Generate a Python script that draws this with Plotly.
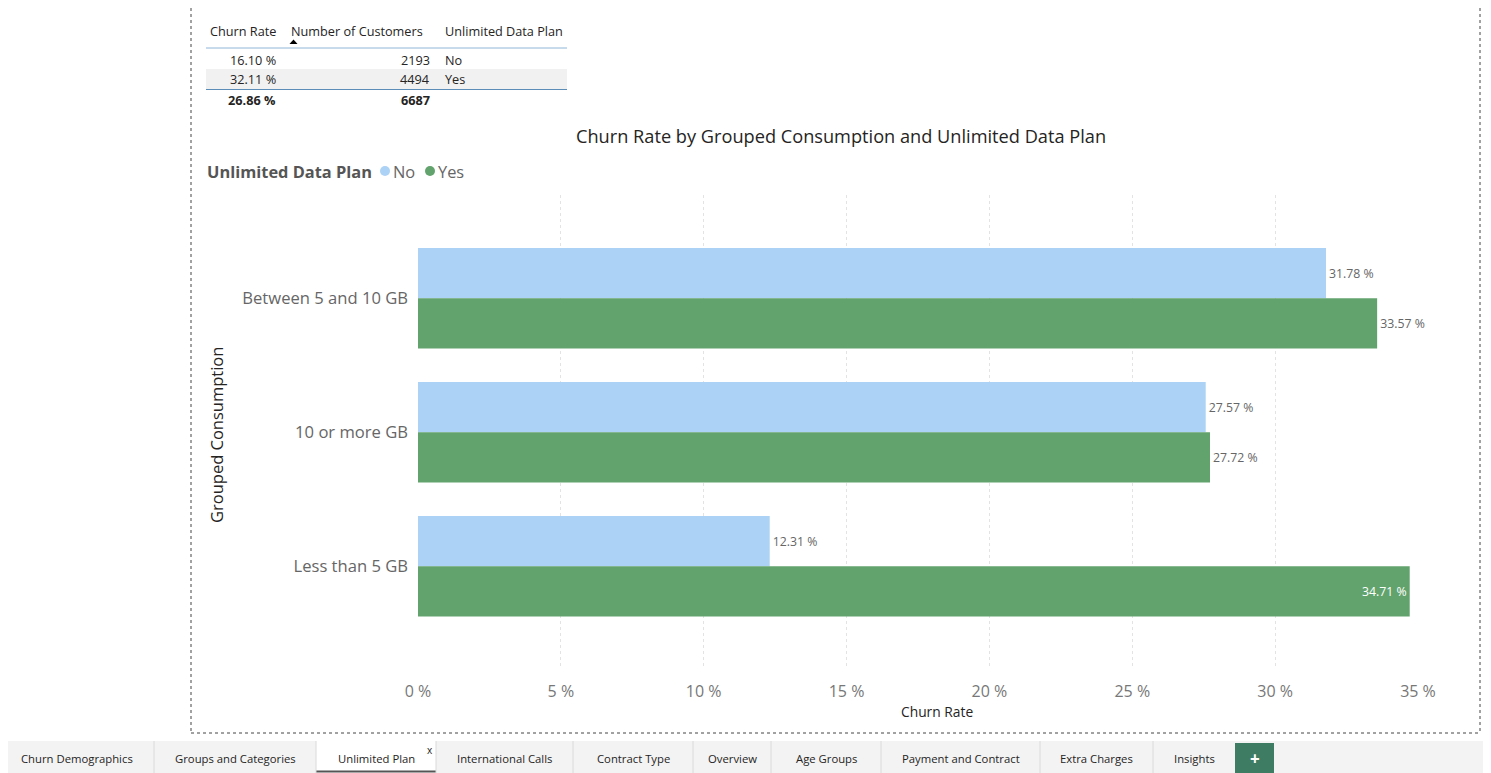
import plotly.graph_objects as go

# ---------------- data ----------------
categories = ["Between 5 and 10 GB", "10 or more GB", "Less than 5 GB"]
series_names = ["No", "Yes"]
no_values = [31.78, 27.57, 12.31]
yes_values = [33.57, 27.72, 34.71]
x_ticks = [0, 5, 10, 15, 20, 25, 30, 35]

table_headers = ["Churn Rate", "Number of Customers", "Unlimited Data Plan"]
table_churn = ["16.10 %", "32.11 %"]
table_customers = [2193, 4494]
table_plan = ["No", "Yes"]
total_churn = "26.86 %"
total_customers = 6687

tabs = ["Churn Demographics", "Groups and Categories", "Unlimited Plan", "International Calls",
        "Contract Type", "Overview", "Age Groups", "Payment and Contract", "Extra Charges", "Insights"]
active_tab = "Unlimited Plan"

# ---------------- styling ----------------
OFF = 8  # page body margin
W, H = 1491 - OFF, 773 - OFF
ML, MR, MT, MB = 418 - OFF, 73, 195 - OFF, 105
PW, PH = W - ML - MR, H - MT - MB
FONT = "Open Sans, Segoe UI, sans-serif"
C_NO = "#ACD2F6"
C_YES = "#62A36D"
C_TEXT = "#252423"


def px(x):
    # x given in reference-screen pixels
    return (x - OFF - ML) / PW


def py(y):
    return 1 - (y - OFF - MT) / PH


fig = go.Figure()

label_positions_yes = ["inside" if v > 34 else "outside" for v in yes_values]

fig.add_trace(go.Bar(
    y=categories, x=no_values, name=series_names[0], orientation="h",
    marker=dict(color=C_NO, line=dict(width=0)),
    texttemplate="%{x:.2f} %", textposition="outside",
    textfont=dict(family=FONT, size=12.3, color="#666666"),
    cliponaxis=False, showlegend=False,
))
fig.add_trace(go.Bar(
    y=categories, x=yes_values, name=series_names[1], orientation="h",
    marker=dict(color=C_YES, line=dict(width=0)),
    texttemplate="%{x:.2f} %", textposition=label_positions_yes,
    insidetextanchor="end",
    insidetextfont=dict(family=FONT, size=12.3, color="#ffffff"),
    outsidetextfont=dict(family=FONT, size=12.3, color="#666666"),
    cliponaxis=False, showlegend=False,
))

shapes = []
annotations = []

# ---- outer dotted visual border ----
for (x0, y0, x1, y1) in [(191, 8, 191, 733), (191, 733, 1480, 733), (1480, 8, 1480, 733)]:
    shapes.append(dict(type="line", xref="paper", yref="paper", x0=px(x0), y0=py(y0), x1=px(x1), y1=py(y1),
                       line=dict(color="#444444", width=1, dash="dot"), layer="below"))

# ---- table ----
hdr_y = 31
annotations.append(dict(text=table_headers[0], x=px(278), y=py(hdr_y), xanchor="right"))
annotations.append(dict(text=table_headers[1], x=px(289), y=py(hdr_y), xanchor="left"))
annotations.append(dict(text=table_headers[2], x=px(443), y=py(hdr_y), xanchor="left"))
# sort indicator triangle
shapes.append(dict(type="path", xref="paper", yref="paper",
                   path="M %f,%f L %f,%f L %f,%f Z" % (px(289.5), py(44), px(297.5), py(44), px(293.5), py(39.5)),
                   fillcolor="#000000", line=dict(width=0)))
shapes.append(dict(type="line", xref="paper", yref="paper", x0=px(206), x1=px(567), y0=py(48), y1=py(48),
                   line=dict(color="#8FB6DA", width=1)))
row_ys = [60, 79]
for i, (c, n, p) in enumerate(zip(table_churn, table_customers, table_plan)):
    if i % 2 == 1:
        shapes.append(dict(type="rect", xref="paper", yref="paper", x0=px(206), x1=px(567),
                           y0=py(row_ys[i] - 10), y1=py(row_ys[i] + 10),
                           fillcolor="#F1F1F1", line=dict(width=0), layer="below"))
    annotations.append(dict(text=c, x=px(278), y=py(row_ys[i]), xanchor="right"))
    annotations.append(dict(text=str(n), x=px(432), y=py(row_ys[i]), xanchor="right"))
    annotations.append(dict(text=p, x=px(443), y=py(row_ys[i]), xanchor="left"))
shapes.append(dict(type="line", xref="paper", yref="paper", x0=px(206), x1=px(567), y0=py(89.5), y1=py(89.5),
                   line=dict(color="#5B8DB8", width=1)))
annotations.append(dict(text="<b>%s</b>" % total_churn, x=px(278), y=py(100), xanchor="right"))
annotations.append(dict(text="<b>%d</b>" % total_customers, x=px(432), y=py(100), xanchor="right"))

for a in annotations:
    a.setdefault("font", dict(family=FONT, size=12.7, color=C_TEXT))
    a["font"].setdefault("family", FONT)
    a.update(xref="paper", yref="paper", yanchor="middle", showarrow=False)

# ---- title ----
annotations.append(dict(text="Churn Rate by Grouped Consumption and Unlimited Data Plan",
                        x=px(841), y=py(136), xref="paper", yref="paper", xanchor="center", yanchor="middle",
                        showarrow=False, font=dict(family=FONT, size=18.2, color=C_TEXT)))

# ---- legend ----
annotations.append(dict(text="<b>Unlimited Data Plan</b>", x=px(205), y=py(171), xref="paper", yref="paper",
                        xanchor="left", yanchor="middle", showarrow=False,
                        font=dict(family=FONT, size=16.4, color="#555555")))
leg_dot_x = [385, 430]
leg_colors = [C_NO, C_YES]
for name, dx, col in zip(series_names, leg_dot_x, leg_colors):
    shapes.append(dict(type="circle", xref="paper", yref="paper", x0=px(dx - 5), x1=px(dx + 5),
                       y0=py(171 - 5), y1=py(171 + 5), fillcolor=col, line=dict(width=0)))
    annotations.append(dict(text=name, x=px(dx + 6), y=py(171), xref="paper", yref="paper",
                            xanchor="left", yanchor="middle", showarrow=False,
                            font=dict(family=FONT, size=16.4, color="#666666")))

# ---- axis titles ----
annotations.append(dict(text="Grouped Consumption", x=px(216), y=py(435), xref="paper", yref="paper",
                        xanchor="center", yanchor="middle", textangle=-90, showarrow=False,
                        font=dict(family=FONT, size=16.5, color=C_TEXT)))
annotations.append(dict(text="Churn Rate", x=px(937), y=py(711), xref="paper", yref="paper",
                        xanchor="center", yanchor="middle", showarrow=False,
                        font=dict(family=FONT, size=13.8, color=C_TEXT)))

# ---- bottom tabs ----
shapes.append(dict(type="rect", xref="paper", yref="paper", x0=px(0), x1=px(1491), y0=py(741), y1=py(773),
                   fillcolor="#F3F3F3", line=dict(width=0), layer="below"))
tab_edges = [0, 154, 316, 436, 573, 693, 771, 881, 1040, 1153, 1235]
for i, name in enumerate(tabs):
    x0, x1 = tab_edges[i], tab_edges[i + 1]
    if name == active_tab:
        shapes.append(dict(type="rect", xref="paper", yref="paper", x0=px(x0), x1=px(x1), y0=py(741),
                           y1=py(773), fillcolor="#FFFFFF", line=dict(width=0), layer="below"))
        shapes.append(dict(type="line", xref="paper", yref="paper", x0=px(x0), x1=px(x1), y0=py(771.5),
                           y1=py(771.5), line=dict(color="#555555", width=2)))
        annotations.append(dict(text="x", x=px(x1 - 6), y=py(750), xref="paper", yref="paper",
                                xanchor="center", yanchor="middle", showarrow=False,
                                font=dict(family=FONT, size=10, color=C_TEXT)))
    if i > 0:
        shapes.append(dict(type="line", xref="paper", yref="paper", x0=px(x0), x1=px(x0), y0=py(741),
                           y1=py(773), line=dict(color="#DADADA", width=1)))
    annotations.append(dict(text=name, x=px((x0 + x1) / 2), y=py(758), xref="paper", yref="paper",
                            xanchor="center", yanchor="middle", showarrow=False,
                            font=dict(family=FONT, size=11.3, color=C_TEXT)))
shapes.append(dict(type="rect", xref="paper", yref="paper", x0=px(1235), x1=px(1274), y0=py(743), y1=py(773),
                   fillcolor="#3F7C64", line=dict(width=0)))
annotations.append(dict(text="<b>+</b>", x=px(1254.5), y=py(758), xref="paper", yref="paper",
                        xanchor="center", yanchor="middle", showarrow=False,
                        font=dict(family=FONT, size=17, color="#FFFFFF")))

fig.update_layout(
    width=W, height=H,
    margin=dict(l=ML, r=MR, t=MT, b=MB, pad=0),
    paper_bgcolor="#FFFFFF", plot_bgcolor="#FFFFFF",
    barmode="group", bargap=0.25, bargroupgap=0,
    font=dict(family=FONT, color=C_TEXT),
    shapes=shapes, annotations=annotations,
    showlegend=False,
    uniformtext=dict(mode=False),
)
fig.update_xaxes(
    range=[0, 35], tickvals=x_ticks, ticktext=["%d %%" % t for t in x_ticks],
    showgrid=True, gridcolor="#E3E3E3", griddash="dot", gridwidth=1,
    zeroline=False, showline=False, ticks="", ticklabelstandoff=12,
    tickfont=dict(family=FONT, size=16, color="#777777"), fixedrange=True,
)
fig.update_yaxes(
    categoryorder="array", categoryarray=categories, autorange=False, range=[2.76, -0.77],
    showgrid=False, zeroline=False, showline=False, ticks="", ticklabelstandoff=9,
    tickfont=dict(family=FONT, size=16.6, color="#666666"), fixedrange=True,
)

fig.write_html("out.html", config={"displayModeBar": False})
